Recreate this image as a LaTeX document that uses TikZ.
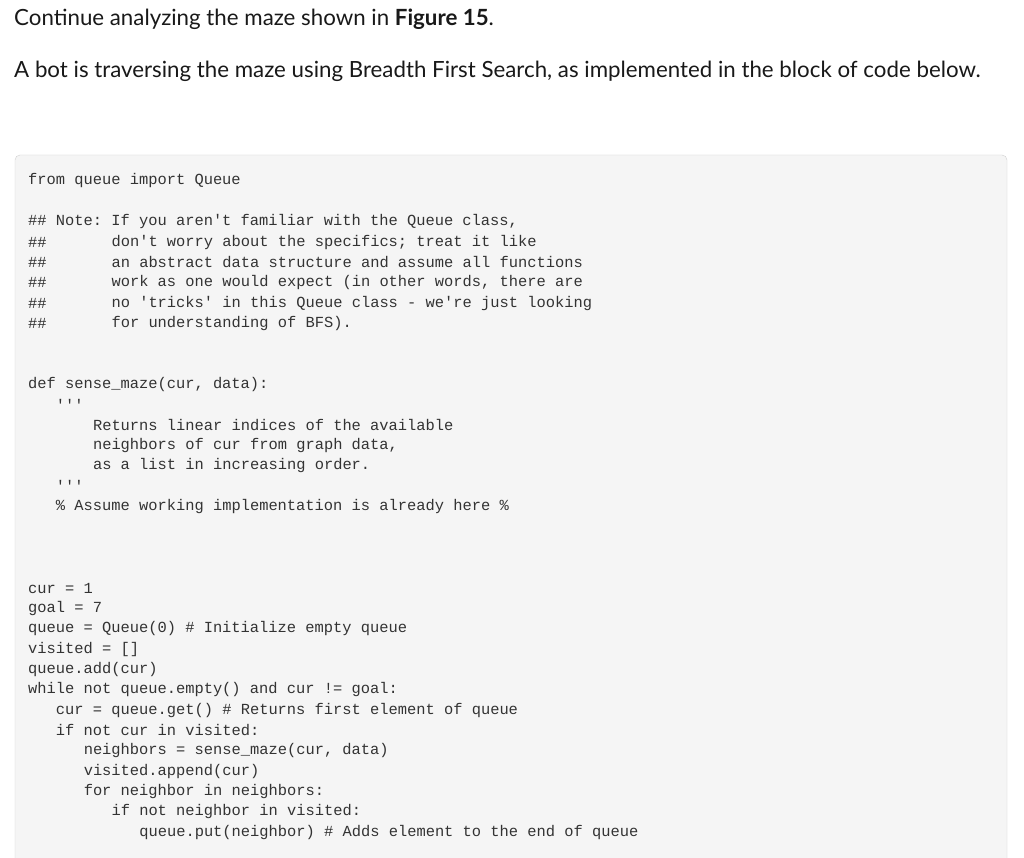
\documentclass[tikz,border=0pt]{standalone}
\usepackage{fontspec}
\setmainfont{Lato}
\setmonofont{Liberation Mono}
\begin{document}
\begin{tikzpicture}[x=1pt,y=-1pt,
  cl/.style={anchor=west,inner sep=0pt,font=\ttfamily\fontsize{15.4}{18}\selectfont,text=black!80},
  hd/.style={anchor=west,inner sep=0pt,font=\fontsize{22.3}{26}\selectfont,text=black!90}]
\useasboundingbox (0,0) rectangle (1024,858);
\fill[white] (0,0) rectangle (1024,858);
\draw[fill=black!4,draw=black!18,rounded corners=5pt] (15,858) -- (15,155) -- (1007,155) -- (1007,858);
\node[hd] (h1) at (14,19) {Continue analyzing the maze shown in \textbf{Figure 15}.};
\node[hd] (h2) at (14,71) {A bot is traversing the maze using Breadth First Search, as implemented in the block of code below.};
\def\cw{9.26}
\def\L#1#2#3#4{\node[cl] (#1) at ({28+\cw*#2},{181+20.35*#3}) {#4};}
\L{a0}{0}{0}{from queue import Queue}
\L{a2}{0}{2}{\#\# Note: If you aren\char39t familiar with the Queue class,}
\L{a3}{0}{3}{\#\#} \L{b3}{9}{3}{don\char39t worry about the specifics; treat it like}
\L{a4}{0}{4}{\#\#} \L{b4}{9}{4}{an abstract data structure and assume all functions}
\L{a5}{0}{5}{\#\#} \L{b5}{9}{5}{work as one would expect (in other words, there are}
\L{a6}{0}{6}{\#\#} \L{b6}{9}{6}{no \char39tricks\char39\ in this Queue class - we\char39re just looking}
\L{a7}{0}{7}{\#\#} \L{b7}{9}{7}{for understanding of BFS).}
\L{a10}{0}{10}{def sense\_maze(cur, data):}
\L{a11}{3}{11}{\char39\char39\char39}
\L{a12}{7}{12}{Returns linear indices of the available}
\L{a13}{7}{13}{neighbors of cur from graph data,}
\L{a14}{7}{14}{as a list in increasing order.}
\L{a15}{3}{15}{\char39\char39\char39}
\L{a16}{3}{16}{\% Assume working implementation is already here \%}
\L{a20}{0}{20}{cur = 1}
\L{a21}{0}{21}{goal = 7}
\L{a22}{0}{22}{queue = Queue(0) \# Initialize empty queue}
\L{a23}{0}{23}{visited = []}
\L{a24}{0}{24}{queue.add(cur)}
\L{a25}{0}{25}{while not queue.empty() and cur != goal:}
\L{a26}{3}{26}{cur = queue.get() \# Returns first element of queue}
\L{a27}{3}{27}{if not cur in visited:}
\L{a28}{6}{28}{neighbors = sense\_maze(cur, data)}
\L{a29}{6}{29}{visited.append(cur)}
\L{a30}{6}{30}{for neighbor in neighbors:}
\L{a31}{9}{31}{if not neighbor in visited:}
\L{a32}{12}{32}{queue.put(neighbor) \# Adds element to the end of queue}
\end{tikzpicture}
\end{document}
